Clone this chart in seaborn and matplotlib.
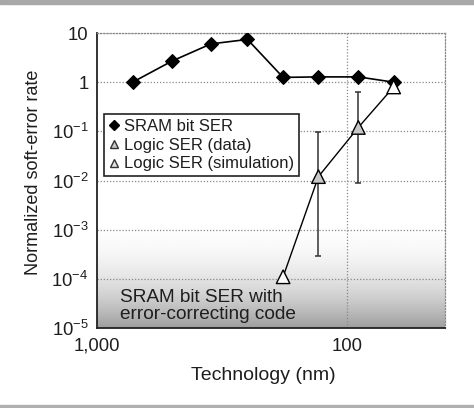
import numpy as np
import pandas as pd
import matplotlib
matplotlib.use("Agg")
import matplotlib.pyplot as plt
import seaborn as sns
from matplotlib.lines import Line2D
from matplotlib.patches import Rectangle
from matplotlib.ticker import FixedLocator, FixedFormatter, NullLocator

# ---- data ----
sram_nm = [720, 500, 350, 250, 180, 130, 90, 65]
sram_ser = [1.0, 2.7, 6.0, 7.4, 1.25, 1.28, 1.28, 1.0]

logic_nm = [180, 130, 90, 65]
logic_ser = [1.1e-4, 1.2e-2, 0.12, 0.8]
logic_kind = ["simulation", "data", "data", "simulation"]

err_nm = [130, 90]
err_ser = [1.2e-2, 0.12]
err_low = [2.9e-4, 8.9e-3]
err_high = [0.095, 0.62]

x_ticks = [1000, 100]
x_ticklabels = ["1,000", "100"]
y_ticks = [1e-5, 1e-4, 1e-3, 1e-2, 1e-1, 1, 10]
y_ticklabels = [r"$10^{-5}$", r"$10^{-4}$", r"$10^{-3}$", r"$10^{-2}$",
                r"$10^{-1}$", "1", "10"]

legend_labels = ["SRAM bit SER", "Logic SER (data)", "Logic SER (simulation)"]
note_text = "SRAM bit SER with\nerror-correcting code"

# ---- style ----
sns.set_style("white")
plt.rcParams["font.family"] = ["Liberation Sans", "DejaVu Sans"]
plt.rcParams["mathtext.fontset"] = "custom"
plt.rcParams["mathtext.rm"] = "Liberation Sans"
plt.rcParams["mathtext.it"] = "Liberation Sans:italic"
plt.rcParams["mathtext.bf"] = "Liberation Sans:bold"

TXT = "#1e1e1e"

fig = plt.figure(figsize=(4.74, 4.08), dpi=100)
pos = [97 / 474, 1 - 328 / 408, (445 - 97) / 474, (328 - 33) / 408]

# background gradient axes
bg = fig.add_axes(pos, zorder=0)
t = np.linspace(0, 1, 256)[:, None]
grad = 1 - 0.38 * (1 - t) ** 2.2
bg.imshow(grad, extent=(0, 1, 0, 0.385), origin="lower", cmap="gray",
          vmin=0, vmax=1, aspect="auto", interpolation="bilinear")
bg.set_xlim(0, 1)
bg.set_ylim(0, 1)
bg.axis("off")

ax = fig.add_axes(pos, zorder=1)
ax.patch.set_alpha(0)
ax.set_xscale("log")
ax.set_yscale("log")
ax.set_xlim(1000, 40.5)
ax.set_ylim(1e-5, 10)

# grid
for yv in y_ticks:
    ax.axhline(yv, color="#888888", lw=0.9, ls=(0, (1, 1.5)), zorder=1)
ax.axvline(100, color="#888888", lw=0.9, ls=(0, (1, 1.5)), zorder=1)

# SRAM series
sns.lineplot(x=sram_nm, y=sram_ser, ax=ax, color="black", lw=1.2,
             marker="D", markersize=7, markeredgecolor="black",
             markerfacecolor="black", zorder=4)

# Logic line
sns.lineplot(x=logic_nm, y=logic_ser, ax=ax, color="black", lw=1.0,
             sort=False, zorder=3)

# error bars
yerr = [np.array(err_ser) - np.array(err_low),
        np.array(err_high) - np.array(err_ser)]
ax.errorbar(err_nm, err_ser, yerr=yerr, fmt="none", ecolor="#333333",
            elinewidth=1.1, capsize=2.2, capthick=1.1, zorder=3)

df = pd.DataFrame({"nm": logic_nm, "ser": logic_ser, "kind": logic_kind})
sns.scatterplot(data=df, x="nm", y="ser", hue="kind",
                palette={"data": "#c8c8c8", "simulation": "white"},
                marker="^", s=95, edgecolor="black", linewidth=1.0,
                legend=False, ax=ax, zorder=5)

# spines
ax.spines["left"].set_color("#222222")
ax.spines["bottom"].set_color("#222222")
ax.spines["left"].set_linewidth(1.3)
ax.spines["bottom"].set_linewidth(1.3)
for s in ["top", "right"]:
    ax.spines[s].set_color("#888888")
    ax.spines[s].set_linewidth(0.9)
    ax.spines[s].set_linestyle((0, (1, 1.5)))

# ticks
ax.xaxis.set_major_locator(FixedLocator(x_ticks))
ax.xaxis.set_major_formatter(FixedFormatter(x_ticklabels))
ax.xaxis.set_minor_locator(NullLocator())
ax.yaxis.set_major_locator(FixedLocator(y_ticks))
ax.yaxis.set_major_formatter(FixedFormatter(y_ticklabels))
ax.yaxis.set_minor_locator(NullLocator())
ax.tick_params(axis="both", length=0, labelsize=13.3, colors=TXT)
ax.tick_params(axis="x", pad=7)
ax.tick_params(axis="y", pad=6)

ax.set_xlabel("Technology (nm)", fontsize=14, color=TXT)
ax.set_ylabel("Normalized soft-error rate", fontsize=13, color=TXT)
ax.xaxis.set_label_coords(0.478, -0.133)
ax.yaxis.set_label_coords(-0.158, 0.527)

# legend
handles = [
    Line2D([], [], marker="D", ls="none", color="black", ms=5),
    Line2D([], [], marker="^", ls="none", mfc="#c8c8c8", mec="#333333", ms=6),
    Line2D([], [], marker="^", ls="none", mfc="#e0e0e0", mec="#333333", ms=6),
]
leg = ax.legend(handles, legend_labels, loc="upper left",
                bbox_to_anchor=(0.02, 0.725), frameon=True, fancybox=False,
                edgecolor="#222222", framealpha=1, fontsize=12,
                handlelength=0.6, handletextpad=0.3, borderpad=0.3,
                labelspacing=0.22, borderaxespad=0)
leg.get_frame().set_linewidth(1.2)
for txt in leg.get_texts():
    txt.set_color(TXT)
leg.set_zorder(6)

ax.text(0.066, 0.018, note_text, transform=ax.transAxes, fontsize=13.7,
        ha="left", va="bottom", linespacing=0.95, color=TXT, zorder=6)

# top / bottom gray bands
fig.patches.append(Rectangle((0, 1 - 3.5 / 408), 1, 3.5 / 408,
                             transform=fig.transFigure, color="#a8a8a8"))
fig.patches.append(Rectangle((0, 0), 1, 3.5 / 408,
                             transform=fig.transFigure, color="#b0b0b0"))

fig.savefig("out.png", dpi=100)
